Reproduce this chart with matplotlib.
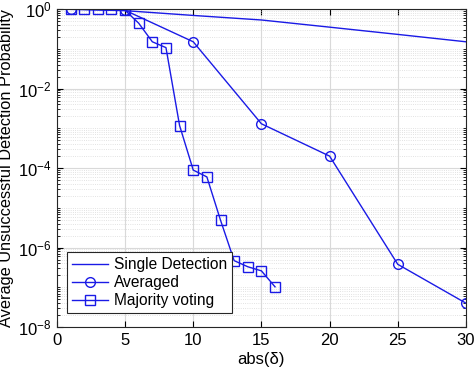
import matplotlib
matplotlib.use("Agg")
import matplotlib.pyplot as plt
import matplotlib.ticker as mticker
import numpy as np

plt.rcParams['font.family'] = ['Liberation Sans', 'DejaVu Sans']

single_x = [0, 5, 10, 15, 20, 25, 30]
single_y = [1.0, 0.91, 0.69, 0.53, 0.35, 0.23, 0.15]

avg_x = [1, 5, 10, 15, 20, 25, 30]
avg_y = [1.0, 0.93, 0.15, 1.3e-3, 2.0e-4, 3.8e-7, 4.0e-8]

maj_x = [1, 2, 3, 4, 5, 6, 7, 8, 9, 10, 11, 12, 13, 14, 15, 16]
maj_y = [1.0, 1.0, 1.0, 1.0, 0.93, 0.44, 0.15, 0.107, 1.17e-3, 8.9e-5,
         6.0e-5, 4.9e-6, 4.7e-7, 3.3e-7, 2.6e-7, 1.03e-7]

xticks = [0, 5, 10, 15, 20, 25, 30]
yticks = [1e-8, 1e-6, 1e-4, 1e-2, 1e0]

color = '#1a1ae6'

fig = plt.figure(figsize=(4.74, 3.76), dpi=100)
ax = fig.add_axes([0.120, 0.130, 0.863, 0.846])

ax.semilogy(single_x, single_y, '-', color=color, lw=1.0, label='Single Detection')
ax.semilogy(avg_x, avg_y, '-o', color=color, lw=1.0, ms=7, mfc='none', mew=1.0, label='Averaged')
ax.semilogy(maj_x, maj_y, '-s', color=color, lw=1.0, ms=6.5, mfc='none', mew=1.0, label='Majority voting')

ax.set_xlim(0, 30)
ax.set_ylim(1e-8, 1)
ax.set_xticks(xticks)
ax.set_yticks(yticks)
ax.yaxis.set_major_formatter(mticker.LogFormatterMathtext())
ax.yaxis.set_minor_locator(mticker.LogLocator(base=10, subs=np.arange(1, 10), numticks=100))
ax.yaxis.set_minor_formatter(mticker.NullFormatter())

ax.grid(True, which='major', color='#d9d9d9', lw=0.8, ls='-')
ax.grid(True, which='minor', axis='y', color='#d9d9d9', lw=0.6, ls=':')
ax.set_axisbelow(True)

ax.tick_params(which='both', direction='in', top=True, right=True, labelsize=12, pad=4)
ax.tick_params(which='major', length=4)
ax.tick_params(which='minor', length=2)
for s in ax.spines.values():
    s.set_color('#262626')
    s.set_linewidth(0.8)

ax.set_xlabel('abs(δ)', fontsize=12, labelpad=3)
ax.set_ylabel('Average Unsuccessful Detection Probability', fontsize=11.8, labelpad=3)

leg = ax.legend(loc='lower left', bbox_to_anchor=(0.018, 0.035), fontsize=11.2,
                frameon=True, fancybox=False, edgecolor='#262626', framealpha=1,
                borderpad=0.3, labelspacing=0.2, handlelength=2.3, handletextpad=0.4,
                borderaxespad=0.2)
leg.get_frame().set_linewidth(0.8)

fig.savefig('out.png', dpi=100)
